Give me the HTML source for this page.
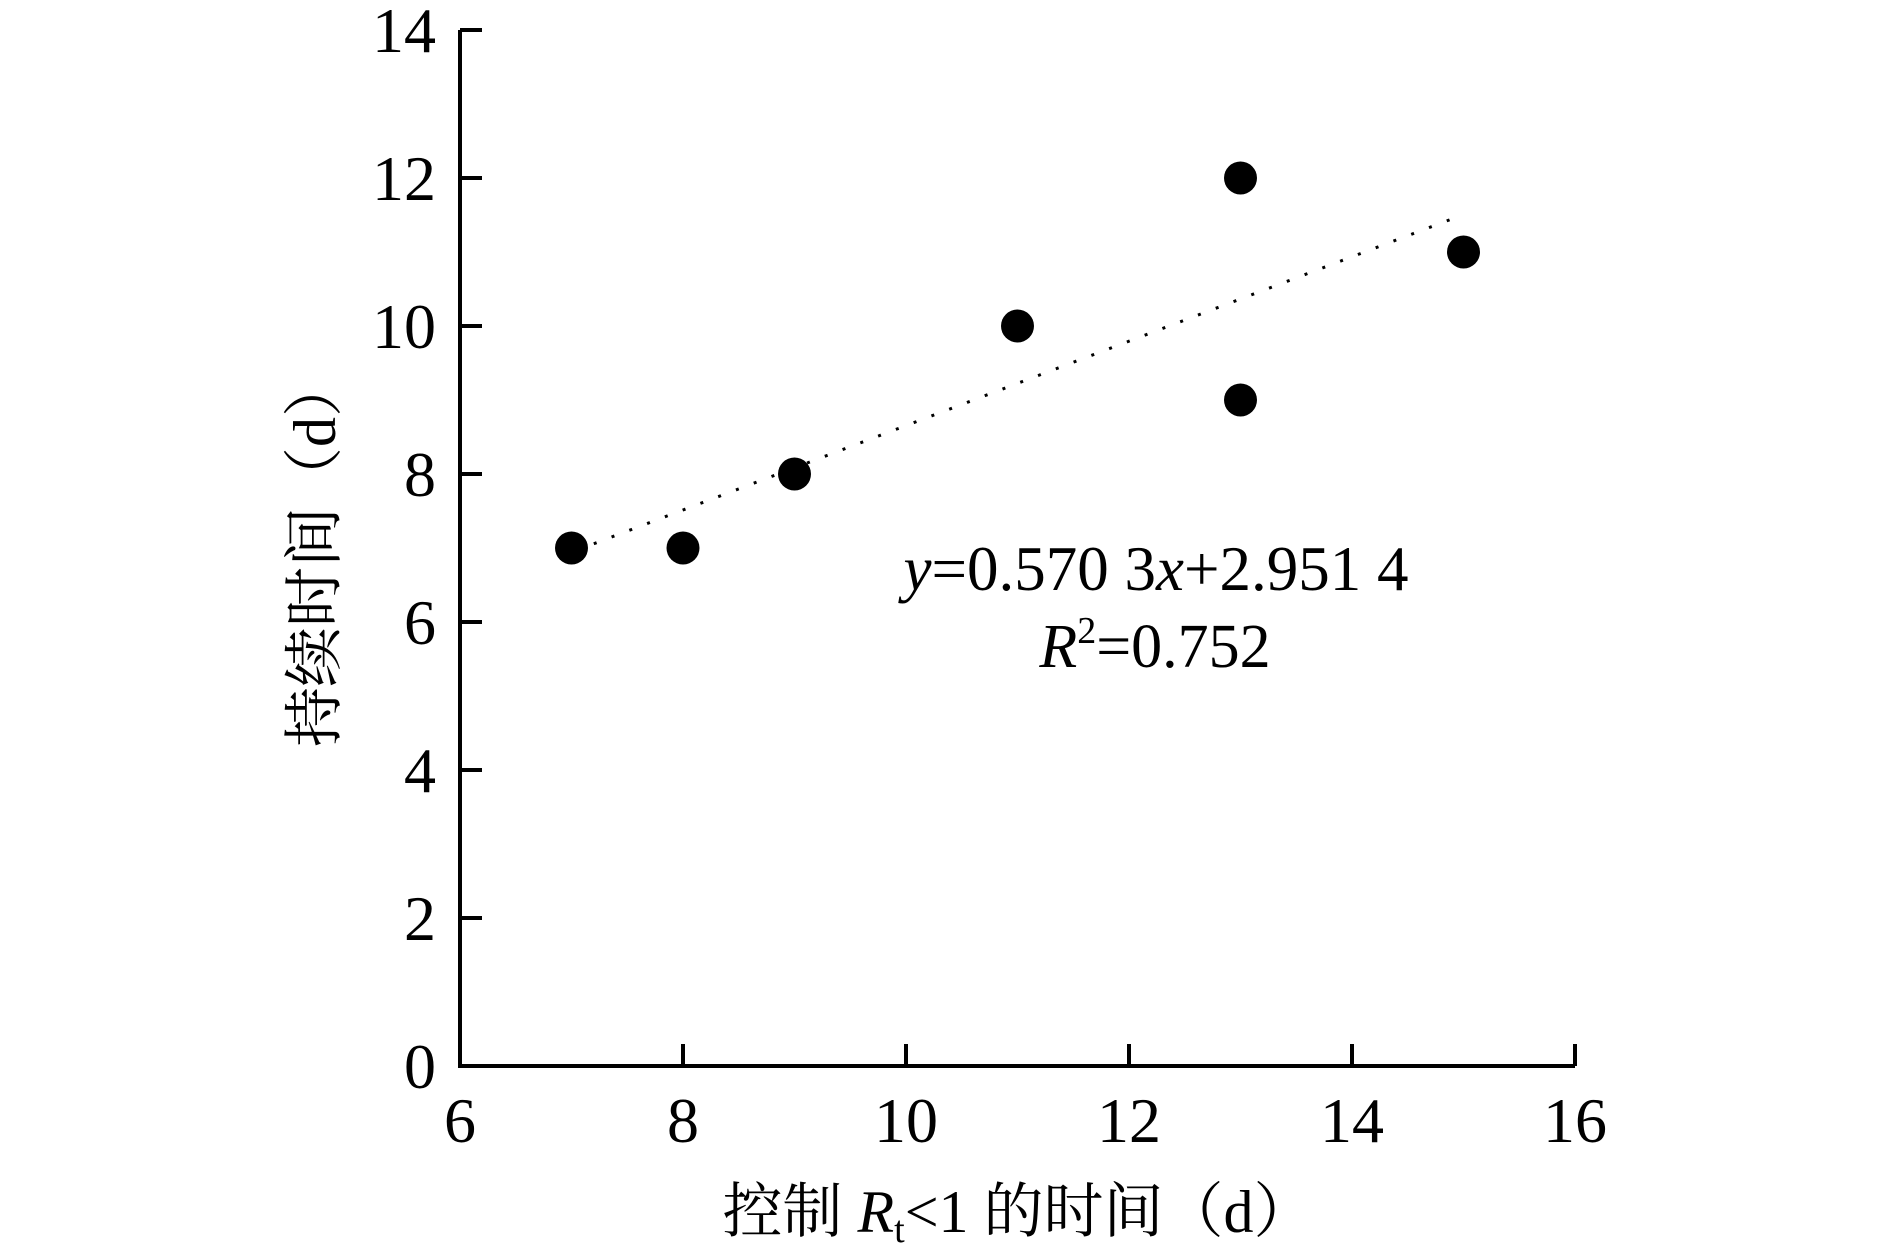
<!DOCTYPE html>
<html><head><meta charset="utf-8"><style>
html,body{margin:0;padding:0;background:#fff;}
svg{display:block;font-family:"Liberation Serif","Noto Serif CJK SC",serif;}
</style></head><body>
<svg id="chart" width="1890" height="1251" viewBox="0 0 1890 1251" xmlns="http://www.w3.org/2000/svg">
<g id="axes"></g>
<g id="marks"></g>
<text x="1156" y="590" font-size="63" text-anchor="middle"><tspan font-style="italic">y</tspan>=0.570 3<tspan font-style="italic">x</tspan>+2.951 4</text>
<text x="1155" y="667" font-size="62" text-anchor="middle"><tspan font-style="italic">R</tspan><tspan font-size="38" dy="-24">2</tspan><tspan dy="24">=0.752</tspan></text>
<text transform="translate(335,552) rotate(-90)" font-size="60" text-anchor="middle">持续时间（d）</text>
<text x="1018" y="1232" font-size="60" text-anchor="middle">控制 <tspan font-style="italic">R</tspan><tspan font-size="38" dy="10">t</tspan><tspan dy="-10">&lt;1 的时间（d）</tspan></text>
</svg>
<script>
const xTicks=[6,8,10,12,14,16];
const yTicks=[0,2,4,6,8,10,12,14];
const xVals=[7,8,9,11,13,13,15];
const yVals=[7,7,8,10,12,9,11];
const slope=0.5703, intercept=2.9514;
const trendRange=[7.2,14.9];
const NS="http://www.w3.org/2000/svg";
const X0=460,X1=1575,Y0=1066,Y1=30;
function sx(v){return X0+(v-6)/(16-6)*(X1-X0);}
function sy(v){return Y0-(v-0)/(14-0)*(Y0-Y1);}
function mk(tag,attrs,parent){const e=document.createElementNS(NS,tag);for(const k in attrs)e.setAttribute(k,attrs[k]);parent.appendChild(e);return e;}
const axes=document.getElementById('axes');
const marks=document.getElementById('marks');
let a=mk('line',{x1:X0,y1:Y1,x2:X0,y2:Y0+2,stroke:'#000','stroke-width':4},axes);


a=mk('line',{x1:X0-2,y1:Y0,x2:X1,y2:Y0,stroke:'#000','stroke-width':4},axes);


xTicks.forEach(v=>{
  const t=mk('line',{x1:sx(v),y1:Y0,x2:sx(v),y2:Y0-22,stroke:'#000','stroke-width':4},axes);
  
  
  const l=mk('text',{x:sx(v),y:1142,'font-size':64,'text-anchor':'middle'},axes);
  l.textContent=v;
  
  
});
yTicks.forEach(v=>{
  const t=mk('line',{x1:X0,y1:sy(v),x2:X0+22,y2:sy(v),stroke:'#000','stroke-width':4},axes);
  
  
  const l=mk('text',{x:436,y:sy(v)+22,'font-size':64,'text-anchor':'end'},axes);
  l.textContent=v;
  
  
});
const tl=mk('line',{x1:sx(trendRange[0]),y1:sy(slope*trendRange[0]+intercept),x2:sx(trendRange[1]),y2:sy(slope*trendRange[1]+intercept),stroke:'#000','stroke-width':3,'stroke-dasharray':'3 16'},marks);


xVals.forEach((xv,i)=>{
  const c=mk('circle',{cx:sx(xv),cy:sy(yVals[i]),r:16.5,fill:'#000'},marks);
  
  
});
</script>
</body></html>
